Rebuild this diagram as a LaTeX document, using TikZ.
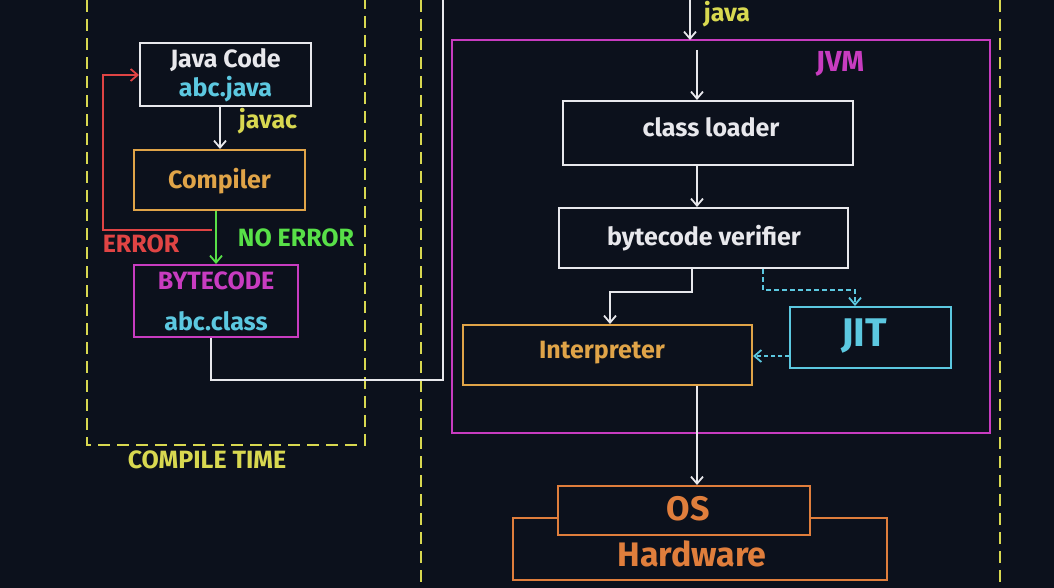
\documentclass[tikz,border=0pt]{standalone}
\usepackage{fontspec}
\setmainfont{Fira Sans}
\usetikzlibrary{arrows.meta}
\definecolor{bg}{HTML}{0C111C}
\definecolor{yel}{HTML}{D8D850}
\definecolor{cya}{HTML}{5CC8E0}
\definecolor{mag}{HTML}{C83CC0}
\definecolor{org}{HTML}{E0A448}
\definecolor{hw}{HTML}{E07E3C}
\definecolor{grn}{HTML}{58E048}
\definecolor{rd}{HTML}{E04444}
\definecolor{wh}{HTML}{E8E8EC}
\tikzset{
 box/.style={draw, line width=2pt, inner sep=0pt, fill=bg},
 lab/.style={font=\bfseries\fontsize{25}{29}\selectfont},
 big/.style={font=\bfseries\fontsize{29}{33}\selectfont},
 ln/.style={line width=1.8pt},
 arr/.style={ln, -{Straight Barb[length=7pt,width=12pt]}},
 ydash/.style={yel, line width=1.8pt, dash pattern=on 12pt off 7pt},
}
\begin{document}
\begin{tikzpicture}[x=1pt,y=-1pt]
\fill[bg] (0,0) rectangle (1054,588);
\useasboundingbox (0,0) rectangle (1054,588);
% dashed regions
\draw[ydash] (87,0) -- (87,445) -- (365,445) -- (365,0);
\draw[ydash] (421,0) -- (421,588);
\draw[ydash] (1000,0) -- (1000,588);
\node[lab, text=yel] (ct) at (207,460) {COMPILE TIME};
% left side
\node[box, draw=wh, minimum width=171pt, minimum height=63pt] (jc) at (225.5,74.5) {};
\node[lab, text=wh] (jct) at (225.5,60) {Java Code};
\node[lab, text=cya] (jca) at (225.5,89) {abc.java};
\node[box, draw=org, minimum width=171pt, minimum height=60pt] (cp) at (219.5,180) {};
\node[lab, text=org] (cpt) at (219.5,181) {Compiler};
\node[box, draw=mag, minimum width=164pt, minimum height=72pt] (bc) at (216,301) {};
\node[lab, text=mag] (bct) at (216,281) {BYTECODE};
\node[lab, text=cya] (bca) at (216,321) {abc.class};
\draw[arr, wh] (jc.south -| 220,0) -- (cp.north -| 220,0);
\node[lab, text=yel] (javac) at (268,121) {javac};
\draw[arr, grn] (cp.south -| 216,0) -- (bc.north -| 216,0);
\node[lab, text=grn] (ne) at (296,238) {NO ERROR};
\coordinate (e0) at (212,230);
\draw[arr, rd] (e0) -- (103,230) -- (103,75) -- (jc.west |- 0,75);
\node[lab, text=rd] (er) at (141,244) {ERROR};
\coordinate (t0) at (443,0);
\draw[ln, wh] (bc.south -| 211,0) -- (211,380) -- (443,380) -- (t0);
% JVM
\node[box, draw=mag, fill=none, minimum width=538pt, minimum height=393pt] (jvm) at (721,236.5) {};
\node[big, text=mag] (jvml) at (840,64) {JVM};
\coordinate (j0) at (690,0);
\draw[arr, wh] (j0) -- (690,40);
\node[lab, text=yel] (jv) at (727,14) {java};
\node[box, draw=wh, minimum width=290pt, minimum height=64pt] (cl) at (708,133) {};
\node[lab, text=wh] (clt) at (711,127) {class loader};
\draw[arr, wh] (697,50) -- (cl.north -| 697,0);
\node[box, draw=wh, minimum width=289pt, minimum height=60pt] (bv) at (703.5,238) {};
\node[lab, text=wh] (bvt) at (704,238) {bytecode verifier};
\draw[arr, wh] (cl.south -| 697,0) -- (bv.north -| 697,0);
\node[box, draw=org, minimum width=289pt, minimum height=60pt] (ip) at (607.5,355) {};
\node[lab, text=org] (ipt) at (602,353) {Interpreter};
\node[box, draw=cya, minimum width=161pt, minimum height=61pt] (jit) at (870.5,337.5) {};
\node[text=cya, font=\bfseries\fontsize{40}{44}\selectfont] (jitt) at (864,336) {JIT};
\draw[arr, wh] (bv.south -| 692,0) -- (692,292) -- (610,292) -- (ip.north -| 610,0);
\draw[arr, cya, dash pattern=on 5pt off 3pt] (bv.south -| 763,0) -- (763,290) -- (855,290) -- (jit.north -| 855,0);
\draw[arr, cya, dash pattern=on 4pt off 3pt] (jit.west |- 0,356) -- (ip.east |- 0,356);
% OS / Hardware
\node[box, draw=hw, minimum width=374pt, minimum height=62pt] (hwb) at (700,549) {};
\node[box, draw=hw, minimum width=252pt, minimum height=49pt] (os) at (684,510.5) {};
\node[text=hw, font=\bfseries\fontsize{34}{38}\selectfont] (ost) at (688,509) {OS};
\node[text=hw, font=\bfseries\fontsize{34}{38}\selectfont] (hwt) at (692,554) {Hardware};
\draw[arr, wh] (ip.south -| 697,0) -- (os.north -| 697,0);
\end{tikzpicture}
\end{document}
